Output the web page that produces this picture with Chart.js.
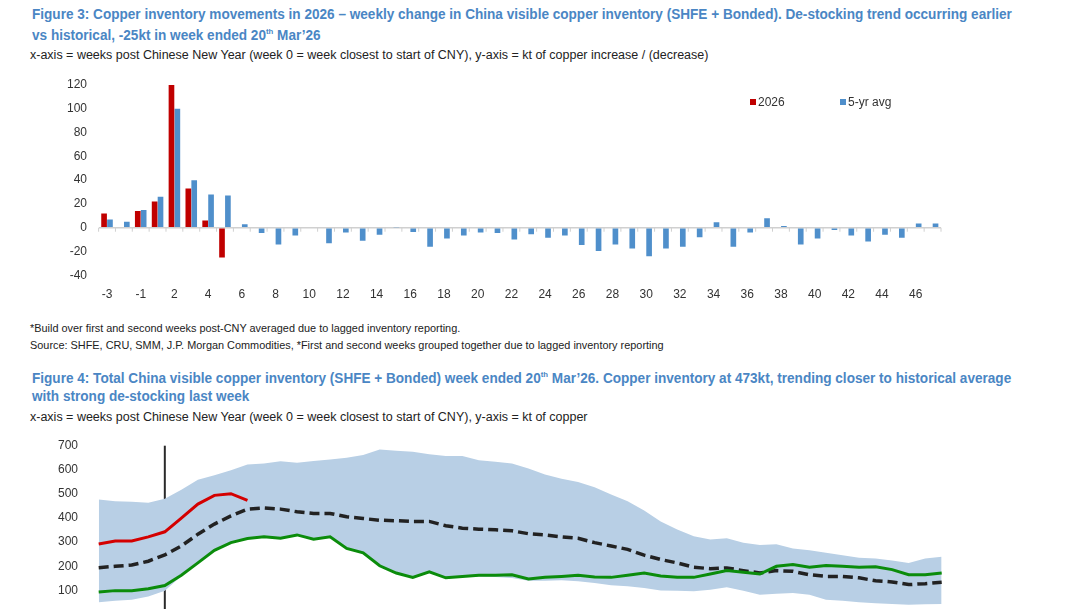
<!DOCTYPE html>
<html>
<head>
<meta charset="utf-8">
<script src="https://cdn.jsdelivr.net/npm/chart.js@4.4.1/dist/chart.umd.min.js"></script>
<style>
  html, body { margin: 0; padding: 0; background: #fff; overflow: hidden; }
  body { width: 1080px; height: 609px; position: relative; font-family: "Liberation Sans Narrow", "Liberation Sans", Arial, sans-serif; color: #222; }
  .title { position: absolute; left: 32px; font-weight: bold; font-size: 14px; line-height: 18px; color: #4a86c4;
           white-space: nowrap; transform: scaleX(0.97); transform-origin: 0 0; }
  .sub { position: absolute; left: 30px; font-size: 12.5px; color: #222; white-space: nowrap; }
  .note { position: absolute; left: 30px; font-size: 10.9px; line-height: 17px; color: #222; white-space: nowrap; }
  .box { position: absolute; left: 0; width: 960px; }
  .leg { position: absolute; top: 95px; font-size: 12px; color: #333; }
  .leg i { display: inline-block; width: 6px; height: 6px; margin-right: 2px; vertical-align: 1px; }
</style>
</head>
<body>
<div class="title" style="top:5px">Figure 3: Copper inventory movements in 2026 – weekly change in China visible copper inventory (SHFE + Bonded). De-stocking trend occurring earlier<br>vs historical, -25kt in week ended 20<sup style="font-size:8px">th</sup> Mar’26</div>
<div class="sub" style="top:48px">x-axis = weeks post Chinese New Year (week 0 = week closest to start of CNY), y-axis = kt of copper increase / (decrease)</div>

<div class="box" style="top:70px;height:232px"><canvas id="weekly"></canvas></div>
<div class="leg" style="left:750px"><i style="background:#c00000"></i>2026</div>
<div class="leg" style="left:840px"><i style="background:#4f8fcb"></i>5-yr avg</div>

<div class="note" style="top:320px">*Build over first and second weeks post-CNY averaged due to lagged inventory reporting.<br>Source: SHFE, CRU, SMM, J.P. Morgan Commodities, *First and second weeks grouped together due to lagged inventory reporting</div>

<div class="title" style="top:366px">Figure 4: Total China visible copper inventory (SHFE + Bonded) week ended 20<sup style="font-size:8px">th</sup> Mar’26. Copper inventory at 473kt, trending closer to historical average<br>with strong de-stocking last week</div>
<div class="sub" style="top:410px">x-axis = weeks post Chinese New Year (week 0 = week closest to start of CNY), y-axis = kt of copper</div>

<div class="box" style="top:430px;height:213px"><canvas id="level"></canvas></div>

<script>
// ---- Figure 3: weekly change (kt) ----
const weekLabels = ["-3","-2","-1","0-1","2","3","4","5","6","7","8","9","10","11","12","13","14","15","16","17",
  "18","19","20","21","22","23","24","25","26","27","28","29","30","31","32","33","34","35","36","37",
  "38","39","40","41","42","43","44","45","46","47"];
const change2026 = [12, null, 14, 22, 120, 33, 6, -25];
const changeAvg = [7, 5, 15, 26, 100, 40, 28, 27, 3, -4.5, -14, -6.5, 0, -13, -4, -11, -6, 0.5, -3.5, -16,
  -9, -6.5, -4, -4.5, -10, -5.5, -8.5, -6.5, -14.5, -19.5, -14, -17.5, -24, -17.5, -16, -8, 4.5, -16, -4, 8,
  1.5, -14, -9, -2, -6.5, -11.5, -6, -8.5, 3.5, 3.5];

// ---- Figure 4: inventory level (kt), weeks -4 .. 47 ----
const levelWeeks = ["-4","-3","-2","-1","0","1","2","3","4","5","6","7","8","9","10","11","12","13","14","15",
  "16","17","18","19","20","21","22","23","24","25","26","27","28","29","30","31","32","33","34","35",
  "36","37","38","39","40","41","42","43","44","45","46","47"];
const level2026 = [292, 305, 305, 322, 343, 400, 458, 494, 501, 473];
const level2025 = [93, 99, 99, 107, 120, 163, 214, 266, 298, 315, 322, 316, 330, 312, 322, 274, 256, 202, 172, 154,
  177, 152, 158, 163, 163, 165, 147, 154, 158, 163, 156, 154, 163, 172, 160, 154, 154, 168, 182, 175,
  168, 200, 207, 196, 203, 200, 196, 198, 186, 165, 165, 172];
const levelAvg = [194, 200, 205, 221, 247, 284, 333, 375, 409, 437, 442, 437, 426, 419, 419, 405, 398, 391, 389, 386,
  386, 368, 358, 354, 351, 347, 335, 330, 322, 316, 298, 284, 270, 246, 228, 214, 196, 190, 193, 182,
  172, 182, 179, 165, 158, 158, 152, 140, 135, 124, 128, 134];
const rangeMax = [477, 470, 468, 463, 480, 517, 559, 577, 598, 622, 626, 636, 629, 637, 643, 650, 661, 684, 679, 675,
  665, 657, 657, 640, 633, 626, 605, 581, 563, 549, 528, 498, 470, 431, 386, 353, 325, 311, 316, 298,
  288, 291, 274, 266, 256, 246, 235, 232, 224, 214, 232, 239];
const rangeMin = [51, 57, 61, 75, 99, 160, 214, 266, 298, 315, 322, 316, 328, 310, 318, 272, 254, 200, 170, 152,
  172, 150, 155, 158, 156, 151, 140, 140, 142, 138, 131, 121, 117, 110, 100, 98, 96, 103, 113, 98,
  82, 86, 89, 82, 61, 57, 51, 47, 44, 40, 43, 44];

const FONT = "'Liberation Sans Narrow', 'Liberation Sans', Arial, sans-serif";
Chart.defaults.font.family = FONT;
Chart.defaults.color = "#333";
Chart.defaults.animation = false;

// little tick marks hanging off the zero line
const zeroTicks = {
  id: "zeroTicks",
  afterDatasetsDraw(chart) {
    const x = chart.scales.x, y = chart.scales.y, c = chart.ctx;
    const y0 = y.getPixelForValue(0);
    const step = x.width / weekLabels.length;
    c.save();
    c.strokeStyle = "#d0d0d0";
    c.lineWidth = 1;
    for (let i = 0; i <= weekLabels.length; i++) {
      const px = x.left + step * i;
      c.beginPath(); c.moveTo(px, y0); c.lineTo(px, y0 + 4); c.stroke();
    }
    c.restore();
  }
};

new Chart(document.getElementById("weekly"), {
  type: "bar",
  data: {
    labels: weekLabels,
    datasets: [
      { label: "2026", data: change2026, backgroundColor: "#c00000" },
      { label: "5-yr avg", data: changeAvg, backgroundColor: "#4f8fcb" }
    ]
  },
  options: {
    responsive: true,
    maintainAspectRatio: false,
    layout: { autoPadding: false, padding: { top: 15, right: 19, left: 0, bottom: 0 } },
    datasets: { bar: { categoryPercentage: 0.7, barPercentage: 0.96 } },
    plugins: { legend: { display: false }, tooltip: { enabled: false } },
    scales: {
      x: {
        grid: { display: false, drawTicks: false },
        border: { display: false },
        afterFit: s => { s.height = 26.7; },
        ticks: {
          autoSkip: false, maxRotation: 0, padding: 12,
          font: { size: 12 }, color: "#333",
          callback: (v, i) => (i % 2 === 0 ? weekLabels[i] : "")
        }
      },
      y: {
        min: -40, max: 120,
        afterFit: s => { s.width = 98.6; },
        grid: {
          drawTicks: true,
          tickLength: 8.6,
          tickColor: "rgba(0,0,0,0)",
          lineWidth: 1.5,
          color: ctx => (ctx.tick && ctx.tick.value === 0 ? "#d0d0d0" : "rgba(0,0,0,0)")
        },
        border: { display: false },
        ticks: { stepSize: 20, padding: 3, font: { size: 12 }, color: "#333" }
      }
    }
  },
  plugins: [zeroTicks]
});

// vertical marker at week 0 (start of CNY)
const cnyLine = {
  id: "cnyLine",
  beforeDatasetsDraw(chart) {
    const x = chart.scales.x, a = chart.chartArea, c = chart.ctx;
    const px = x.getPixelForValue(levelWeeks.indexOf("0"));
    c.save();
    c.strokeStyle = "#2a2a2a";
    c.lineWidth = 2;
    c.beginPath(); c.moveTo(px, a.top); c.lineTo(px, a.bottom); c.stroke();
    c.restore();
  }
};

new Chart(document.getElementById("level"), {
  type: "line",
  data: {
    labels: levelWeeks,
    datasets: [
      { label: "2026", data: level2026, borderColor: "#d40000", borderWidth: 3, order: 1 },
      { label: "2025", data: level2025, borderColor: "#0b8c0b", borderWidth: 3, order: 2 },
      { label: "5-yr avg", data: levelAvg, borderColor: "#222", borderWidth: 3.5, borderDash: [10, 5], order: 3 },
      { label: "5-yr range", data: rangeMax, borderWidth: 0, borderColor: "rgba(0,0,0,0)",
        backgroundColor: "#b8cfe5", fill: "+1", order: 10 },
      { label: "5-yr min", data: rangeMin, borderWidth: 0, borderColor: "rgba(0,0,0,0)", order: 11 }
    ]
  },
  options: {
    responsive: true,
    maintainAspectRatio: false,
    layout: { autoPadding: false, padding: { top: 15.7, right: 18.3, left: 0, bottom: 0 } },
    elements: { point: { radius: 0 }, line: { tension: 0 } },
    plugins: { legend: { display: false }, tooltip: { enabled: false } },
    scales: {
      x: {
        offset: false,
        grid: { display: false, drawTicks: false },
        border: { display: false },
        afterFit: s => { s.height = 28.5; },
        ticks: { autoSkip: false, maxRotation: 0, padding: 12, font: { size: 12 },
          callback: (v, i) => (i % 2 === 0 ? levelWeeks[i] : "") }
      },
      y: {
        min: 0, max: 700,
        afterFit: s => { s.width = 98.7; },
        grid: { drawOnChartArea: false, drawTicks: true, tickLength: 17.7, tickColor: "rgba(0,0,0,0)" },
        border: { display: false },
        ticks: { stepSize: 100, padding: 3, font: { size: 12 }, color: "#333" }
      }
    }
  },
  plugins: [cnyLine]
});
</script>
</body>
</html>
